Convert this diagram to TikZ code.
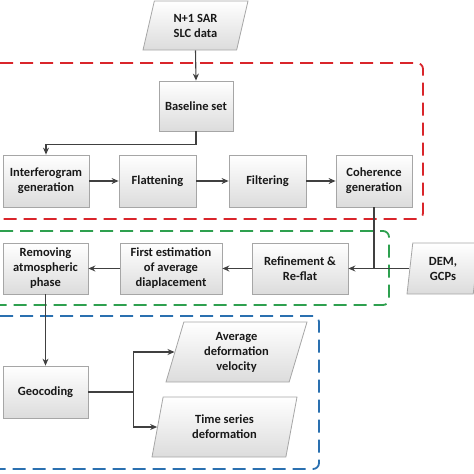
\documentclass[tikz,border=0pt]{standalone}
\usepackage{fontspec}
\setmainfont{Carlito}
\usetikzlibrary{shapes.geometric,arrows.meta,calc}
\definecolor{boxline}{HTML}{A6A6A6}
\definecolor{boxbot}{HTML}{DCDCDC}
\definecolor{arrowc}{HTML}{404040}
\definecolor{grpred}{HTML}{D9252B}
\definecolor{grpgreen}{HTML}{2EA04F}
\definecolor{grpblue}{HTML}{2A70B0}
\tikzset{
  boxfill/.style={draw=boxline, line width=0.8pt, top color=white, bottom color=boxbot},
  stepbox/.style={boxfill, rectangle, minimum height=#1, inner sep=0pt, align=center,
     font=\fontsize{12.5}{15}\selectfont\bfseries, text=black!90},
  stepbox/.default=51pt,
  iobox/.style={boxfill, trapezium, trapezium stretches body, inner sep=0pt, align=center,
     font=\fontsize{12.5}{15}\selectfont\bfseries, text=black!90},
  arr/.style={draw=arrowc, line width=1.1pt, -{Stealth[length=7pt,width=6pt]}},
  ln/.style={draw=arrowc, line width=1.1pt},
  grp/.style={dash pattern=on 13pt off 7pt, line width=1.8pt, rounded corners=6pt},
}
\begin{document}
\begin{tikzpicture}[x=1pt,y=-1pt]
\useasboundingbox (0,0) rectangle (474,474);
\clip (0,0) rectangle (474,474);
% group frames
\draw[grp, grpred] (-20,63) -- (423,63) -- (423,219) -- (-20,219);
\draw[grp, grpgreen] (-20,231) -- (389,231) -- (389,305) -- (-20,305);
\draw[grp, grpblue] (-20,316) -- (319,316) -- (319,469) -- (-20,469);
% nodes
\node[iobox, minimum width=105pt, minimum height=49pt, trapezium left angle=64, trapezium right angle=116] (sar) at (195.5,25.5) {N+1 SAR\\SLC data};
\node[stepbox=50pt, minimum width=74pt] (base) at (196,106) {Baseline set};
\node[stepbox=52pt, minimum width=86pt] (interf) at (46,181) {Interferogram\\generation};
\node[stepbox=52pt, minimum width=77pt] (flat) at (157.5,181) {Flattening};
\node[stepbox=52pt, minimum width=77pt] (filt) at (267.5,181) {Filtering};
\node[stepbox=52pt, minimum width=76pt] (coh) at (374,181) {Coherence\\generation};
\node[stepbox=51pt, minimum width=85pt] (remov) at (45.5,268.5) {Removing\\atmospheric\\phase};
\node[stepbox=51pt, minimum width=102pt] (first) at (171,268.5) {First estimation\\of average\\diaplacement};
\node[stepbox=51pt, minimum width=96pt] (refine) at (300,268.5) {Refinement \&\\Re-flat};
\node[iobox, minimum width=72pt, minimum height=51pt, trapezium left angle=76, trapezium right angle=104] (dem) at (443,268.5) {DEM,\\GCPs};
\node[stepbox=52pt, minimum width=85pt] (geo) at (45.5,392) {Geocoding};
\node[iobox, minimum width=141pt, minimum height=60pt, trapezium left angle=66, trapezium right angle=114] (avg) at (236.5,352) {Average\\deformation\\velocity};
\node[iobox, minimum width=145pt, minimum height=60pt, trapezium left angle=65, trapezium right angle=115] (ts) at (224.5,427) {Time series\\deformation};
% connectors
\draw[arr] (sar.south) -- (base.north);
\draw[arr] (base.south) -- ++(0,13) -| (interf.north);
\draw[arr] (interf.east) -- (flat.west);
\draw[arr] (flat.east) -- (filt.west);
\draw[arr] (filt.east) -- (coh.west);
\coordinate (join) at (coh.south |- refine.east);
\draw[ln] (coh.south) -- (join);
\draw[arr] (dem.west) -- (refine.east);
\draw[arr] (refine.west) -- (first.east);
\draw[arr] (first.west) -- (remov.east);
\draw[arr] (remov.south) -- (geo.north);
\coordinate (split) at ($(geo.east)+(45,0)$);
\draw[ln] (geo.east) -- (split);
\draw[arr] (split) |- (avg.west);
\draw[arr] (split) |- (ts.west);
\end{tikzpicture}
\end{document}
